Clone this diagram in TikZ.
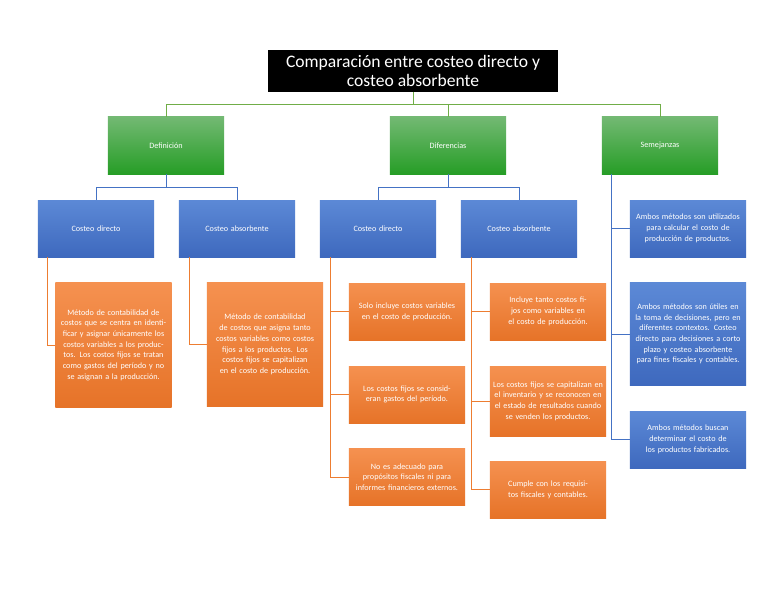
\documentclass[tikz,border=0pt]{standalone}
\usepackage{fontspec}
\setmainfont{Carlito}
\begin{document}
\begin{tikzpicture}[x=0.025cm,y=-0.025cm,
 bx/.style={draw=none,text=white,minimum width=2.9cm,align=center,text width=2.75cm,inner sep=1pt,font=\fontsize{5.8}{7.6}\selectfont},
 gbox/.style={bx,fill=green!55!black!75!white,top color=green!50!black!55!white,bottom color=green!55!black!85!white,minimum height=1.425cm},
 bbox/.style={bx,fill=blue!60!cyan!70!black!80!white,top color={rgb,255:red,92;green,137;blue,214},bottom color={rgb,255:red,62;green,105;blue,190},minimum height=1.425cm},
 obox/.style={bx,top color={rgb,255:red,245;green,145;blue,80},bottom color={rgb,255:red,230;green,115;blue,40}},
 gl/.style={draw={rgb,255:red,112;green,173;blue,71},line width=0.6pt},
 bl/.style={draw={rgb,255:red,68;green,114;blue,196},line width=0.6pt},
 ol/.style={draw={rgb,255:red,237;green,125;blue,49},line width=0.6pt}]
\useasboundingbox[fill=white] (0,0) rectangle (768,594);
\node[fill=black,text=white,minimum width=7.25cm,minimum height=1.05cm,align=center,font=\fontsize{12.5}{14}\selectfont,inner sep=1pt] (t) at (413,71) {Comparación entre costeo directo y\\costeo absorbente};
\node[gbox] (def) at (166,145.5) {Definición};
\node[gbox] (dif) at (448,145.5) {Diferencias};
\node[gbox] (sem) at (660,145.5) {Semejanzas};
\draw[gl] (t.south) -- ++(0,12) -| (def.north);
\draw[gl] (t.south) -- ++(0,12) -| (dif.north);
\draw[gl] (t.south) -- ++(0,12) -| (sem.north);
\node[bbox] (cd1) at (96,228.5) {Costeo directo};
\node[bbox] (ca1) at (237,228.5) {Costeo absorbente};
\node[bbox] (cd2) at (378,228.5) {Costeo directo};
\node[bbox] (ca2) at (519,228.5) {Costeo absorbente};
\draw[bl] (def.south) -- ++(0,13) -| (cd1.north);
\draw[bl] (def.south) -- ++(0,13) -| (ca1.north);
\draw[bl] (dif.south) -- ++(0,13) -| (cd2.north);
\draw[bl] (dif.south) -- ++(0,13) -| (ca2.north);
\node[obox,minimum height=3.1cm] (o1) at (113.5,345) {Método de contabilidad de costos que se centra en identificar y asignar únicamente los costos variables a los productos. Los costos fijos se tratan como gastos del período y no se asignan a la producción.};
\node[obox,minimum height=3.075cm] (o2) at (265,344.5) {Método de contabilidad de costos que asigna tanto costos variables como costos fijos a los productos. Los costos fijos se capitalizan en el costo de producción.};
\node[obox,minimum height=1.425cm] (o3) at (407,311.5) {Solo incluye costos variables en el costo de producción.};
\node[obox,minimum height=1.425cm] (o4) at (407,394.5) {Los costos fijos se consideran gastos del período.};
\node[obox,minimum height=1.425cm] (o5) at (407,477) {No es adecuado para propósitos fiscales ni para informes financieros externos.};
\node[obox,minimum height=1.425cm] (o6) at (548,311.5) {Incluye tanto costos fijos como variables en el costo de producción.};
\node[obox,minimum height=1.75cm] (o7) at (548,401) {Los costos fijos se capitalizan en el inventario y se reconocen en el estado de resultados cuando se venden los productos.};
\node[obox,minimum height=1.425cm] (o8) at (548,489.5) {Cumple con los requisitos fiscales y contables.};
\node[bbox,minimum height=1.425cm] (s1) at (688,228.5) {Ambos métodos son utilizados para calcular el costo de producción de productos.};
\node[bbox,minimum height=2.55cm] (s2) at (688,334) {Ambos métodos son útiles en la toma de decisiones, pero en diferentes contextos. Costeo directo para decisiones a corto plazo y costeo absorbente para fines fiscales y contables.};
\node[bbox,minimum height=1.425cm] (s3) at (688,439.5) {Ambos métodos buscan determinar el costo de los productos fabricados.};
\draw[ol] ([xshift=0.25cm]cd1.south west) |- (o1.west);
\draw[ol] ([xshift=0.275cm]ca1.south west) |- (o2.west);
\draw[ol] ([xshift=0.275cm]cd2.south west) |- (o3.west);
\draw[ol] ([xshift=0.275cm]cd2.south west) |- (o4.west);
\draw[ol] ([xshift=0.275cm]cd2.south west) |- (o5.west);
\draw[ol] ([xshift=0.275cm]ca2.south west) |- (o6.west);
\draw[ol] ([xshift=0.275cm]ca2.south west) |- (o7.west);
\draw[ol] ([xshift=0.275cm]ca2.south west) |- (o8.west);
\draw[bl] ([xshift=0.25cm]sem.south west) |- (s1.west);
\draw[bl] ([xshift=0.25cm]sem.south west) |- (s2.west);
\draw[bl] ([xshift=0.25cm]sem.south west) |- (s3.west);
\end{tikzpicture}
\end{document}
